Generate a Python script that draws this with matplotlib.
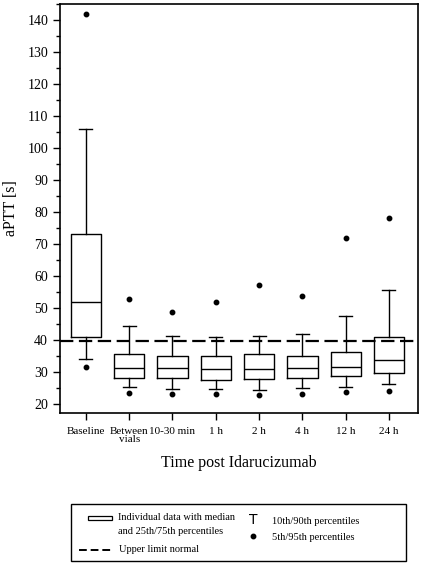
import matplotlib.pyplot as plt
from matplotlib.patches import Rectangle
from matplotlib.lines import Line2D

plt.rcParams['font.family'] = ['Liberation Serif', 'DejaVu Serif']

labels = ['Baseline', 'Between\nvials', '10-30 min', '1 h', '2 h', '4 h', '12 h', '24 h']
p5 = [31.5, 23.6, 23.0, 23.0, 22.7, 23.2, 23.9, 24.2]
p10 = [34.0, 25.3, 24.7, 24.7, 24.4, 25.0, 25.3, 26.3]
q1 = [41.0, 28.0, 28.2, 27.6, 27.9, 28.2, 28.8, 29.7]
med = [52.0, 31.3, 31.3, 31.0, 31.0, 31.3, 31.6, 33.7]
q3 = [73.0, 35.6, 35.0, 35.0, 35.6, 35.0, 36.3, 41.0]
p90 = [106.0, 44.3, 41.3, 41.0, 41.3, 42.0, 47.5, 55.6]
p95 = [142.0, 52.7, 48.7, 51.8, 57.3, 53.8, 72.0, 78.0]
upper_limit = 39.8

stats = []
for i in range(len(labels)):
    stats.append({'med': med[i], 'q1': q1[i], 'q3': q3[i],
                  'whislo': p10[i], 'whishi': p90[i],
                  'fliers': [p5[i], p95[i]]})

fig = plt.figure(figsize=(4.22, 5.67), dpi=100)
ax = fig.add_axes([0.142, 0.2716, 0.8485, 0.7214])

pos = list(range(1, len(labels) + 1))
ax.bxp(stats, positions=pos, widths=0.7, capwidths=0.3,
       boxprops=dict(color='black', linewidth=1),
       medianprops=dict(color='black', linewidth=1),
       whiskerprops=dict(color='black', linewidth=1),
       capprops=dict(color='black', linewidth=1),
       flierprops=dict(marker='o', markersize=3.2, markerfacecolor='black',
                       markeredgecolor='black'))
ax.axhline(upper_limit, color='black', linestyle=(0, (6, 2.5)), linewidth=1.6, zorder=3)

ax.set_xlim(0.4, 8.67)
ax.set_ylim(17.2, 145)
ax.set_yticks(range(20, 141, 10))
ax.set_yticks(range(25, 146, 10), minor=True)
ax.set_xticks(pos)
ax.set_xticklabels(labels, fontsize=8, linespacing=0.9, va='top')
ax.tick_params(axis='y', labelsize=10, length=5, width=1)
ax.tick_params(axis='y', which='minor', length=3, width=1)
ax.tick_params(axis='x', length=5, width=1, pad=5)
for s in ax.spines.values():
    s.set_linewidth(1.2)

ax.set_ylabel('aPTT [s]', fontsize=11.5, labelpad=6)
ax.set_xlabel('Time post Idarucizumab', fontsize=11.5, labelpad=8)

# legend drawn by hand in pixel positions of the figure
W, H = 422, 567


def fx(x):
    return x / W


def fy(y):
    return 1 - y / H


fig.patches.append(Rectangle((fx(71), fy(561)), fx(406) - fx(71), fy(504) - fy(561),
                             transform=fig.transFigure, fill=False,
                             edgecolor='black', linewidth=1))
fig.patches.append(Rectangle((fx(88), fy(520)), fx(112) - fx(88), fy(516) - fy(520),
                             transform=fig.transFigure, fill=False,
                             edgecolor='black', linewidth=0.9))
fig.lines.append(Line2D([fx(79), fx(111)], [fy(550), fy(550)], transform=fig.transFigure,
                        color='black', linestyle=(0, (4, 2)), linewidth=1.4))
fig.lines.append(Line2D([fx(253)], [fy(536)], transform=fig.transFigure,
                        marker='o', markersize=3.2, color='black', linestyle='none'))
lf = 7.5
fig.text(fx(118), fy(518), 'Individual data with median', fontsize=lf, va='center')
fig.text(fx(118), fy(532), 'and 25th/75th percentiles', fontsize=lf, va='center')
fig.text(fx(119), fy(550), 'Upper limit normal', fontsize=lf, va='center')
fig.text(fx(253), fy(520), 'T', fontsize=10, va='center', ha='center', family='DejaVu Sans')
fig.text(fx(272), fy(522), '10th/90th percentiles', fontsize=lf, va='center')
fig.text(fx(272), fy(537), '5th/95th percentiles', fontsize=lf, va='center')

fig.savefig('out.png', dpi=100)
